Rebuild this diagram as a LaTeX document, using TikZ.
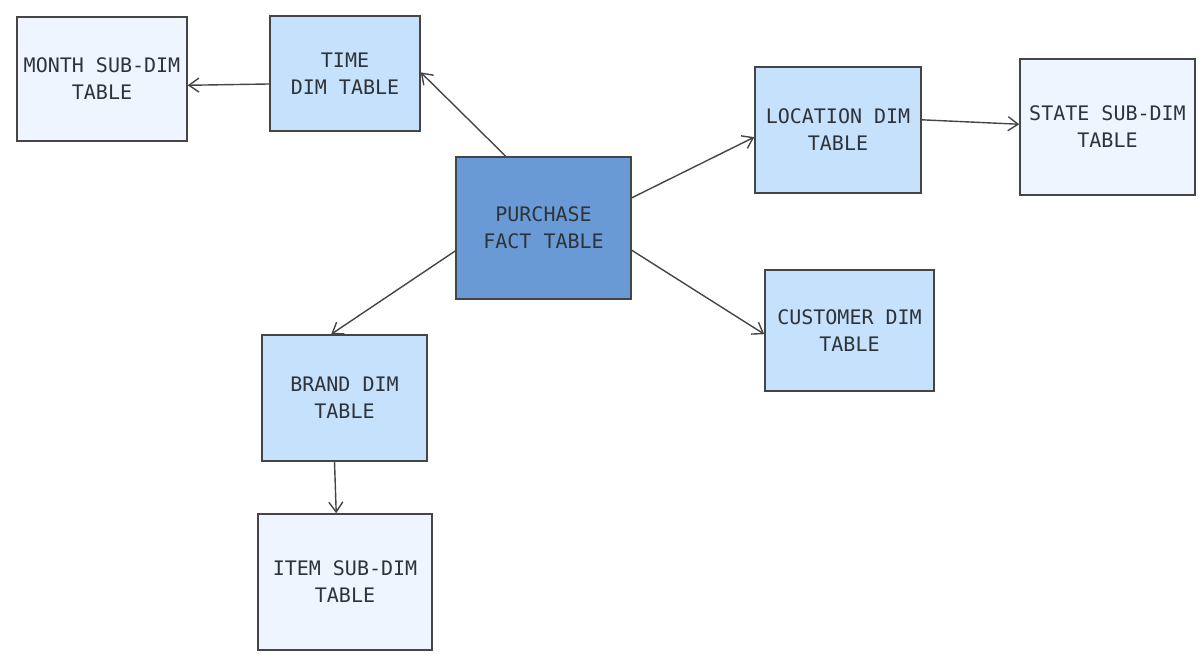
\documentclass[tikz,border=0pt]{standalone}
\usepackage{fontspec}
\setmonofont{DejaVu Sans Mono}
\usetikzlibrary{arrows.meta,calc}
\definecolor{edge}{HTML}{454545}
\definecolor{ink}{HTML}{2E333A}
\definecolor{dimfill}{HTML}{C5E1FC}
\definecolor{subfill}{HTML}{EEF5FE}
\definecolor{factfill}{HTML}{6A9AD5}
\tikzset{
  tbl/.style={draw=edge, line width=1.5pt, text=ink, align=center,
    font=\ttfamily\fontsize{20}{27}\selectfont, inner sep=0pt},
  dimbox/.style={tbl, fill=dimfill},
  subbox/.style={tbl, fill=subfill},
  factbox/.style={tbl, fill=factfill},
  link/.style={draw=edge, line width=1.4pt,
    -{Straight Barb[length=10pt,width=14pt,line width=1.4pt]}}
}
\begin{document}
\begin{tikzpicture}[x=1pt,y=-1pt]
\useasboundingbox (0,0) rectangle (1200,661);
% tables
\node[subbox, minimum width=170, minimum height=124] (month) at (102,79) {MONTH SUB-DIM\\TABLE};
\node[dimbox, minimum width=150, minimum height=115] (time) at (345,73.5) {TIME\\DIM TABLE};
\node[factbox, minimum width=175, minimum height=142] (fact) at (543.5,228) {PURCHASE\\FACT TABLE};
\node[dimbox, minimum width=166, minimum height=126] (loc) at (838,130) {LOCATION DIM\\TABLE};
\node[subbox, minimum width=175, minimum height=136] (state) at (1107.5,127) {STATE SUB-DIM\\TABLE};
\node[dimbox, minimum width=169, minimum height=121] (cust) at (849.5,330.5) {CUSTOMER DIM\\TABLE};
\node[dimbox, minimum width=165, minimum height=126] (brand) at (344.5,398) {BRAND DIM\\TABLE};
\node[subbox, minimum width=174, minimum height=136] (item) at (345,582) {ITEM SUB-DIM\\TABLE};
% connectors
\draw[link] ($(time.north west)!0.59!(time.south west)$) -- ($(month.north east)!0.55!(month.south east)$);
\draw[link] ($(fact.north west)!0.286!(fact.north east)$) -- ($(time.north east)!0.49!(time.south east)$);
\draw[link] ($(fact.north east)!0.29!(fact.south east)$) -- ($(loc.north west)!0.556!(loc.south west)$);
\draw[link] ($(loc.north east)!0.42!(loc.south east)$) -- ($(state.north west)!0.48!(state.south west)$);
\draw[link] ($(fact.north east)!0.655!(fact.south east)$) -- ($(cust.north west)!0.53!(cust.south west)$);
\draw[link] ($(fact.north west)!0.66!(fact.south west)$) -- ($(brand.north west)!0.42!(brand.north east)$);
\draw[link] ($(brand.south west)!0.44!(brand.south east)$) -- ($(item.north west)!0.45!(item.north east)$);
\end{tikzpicture}
\end{document}
